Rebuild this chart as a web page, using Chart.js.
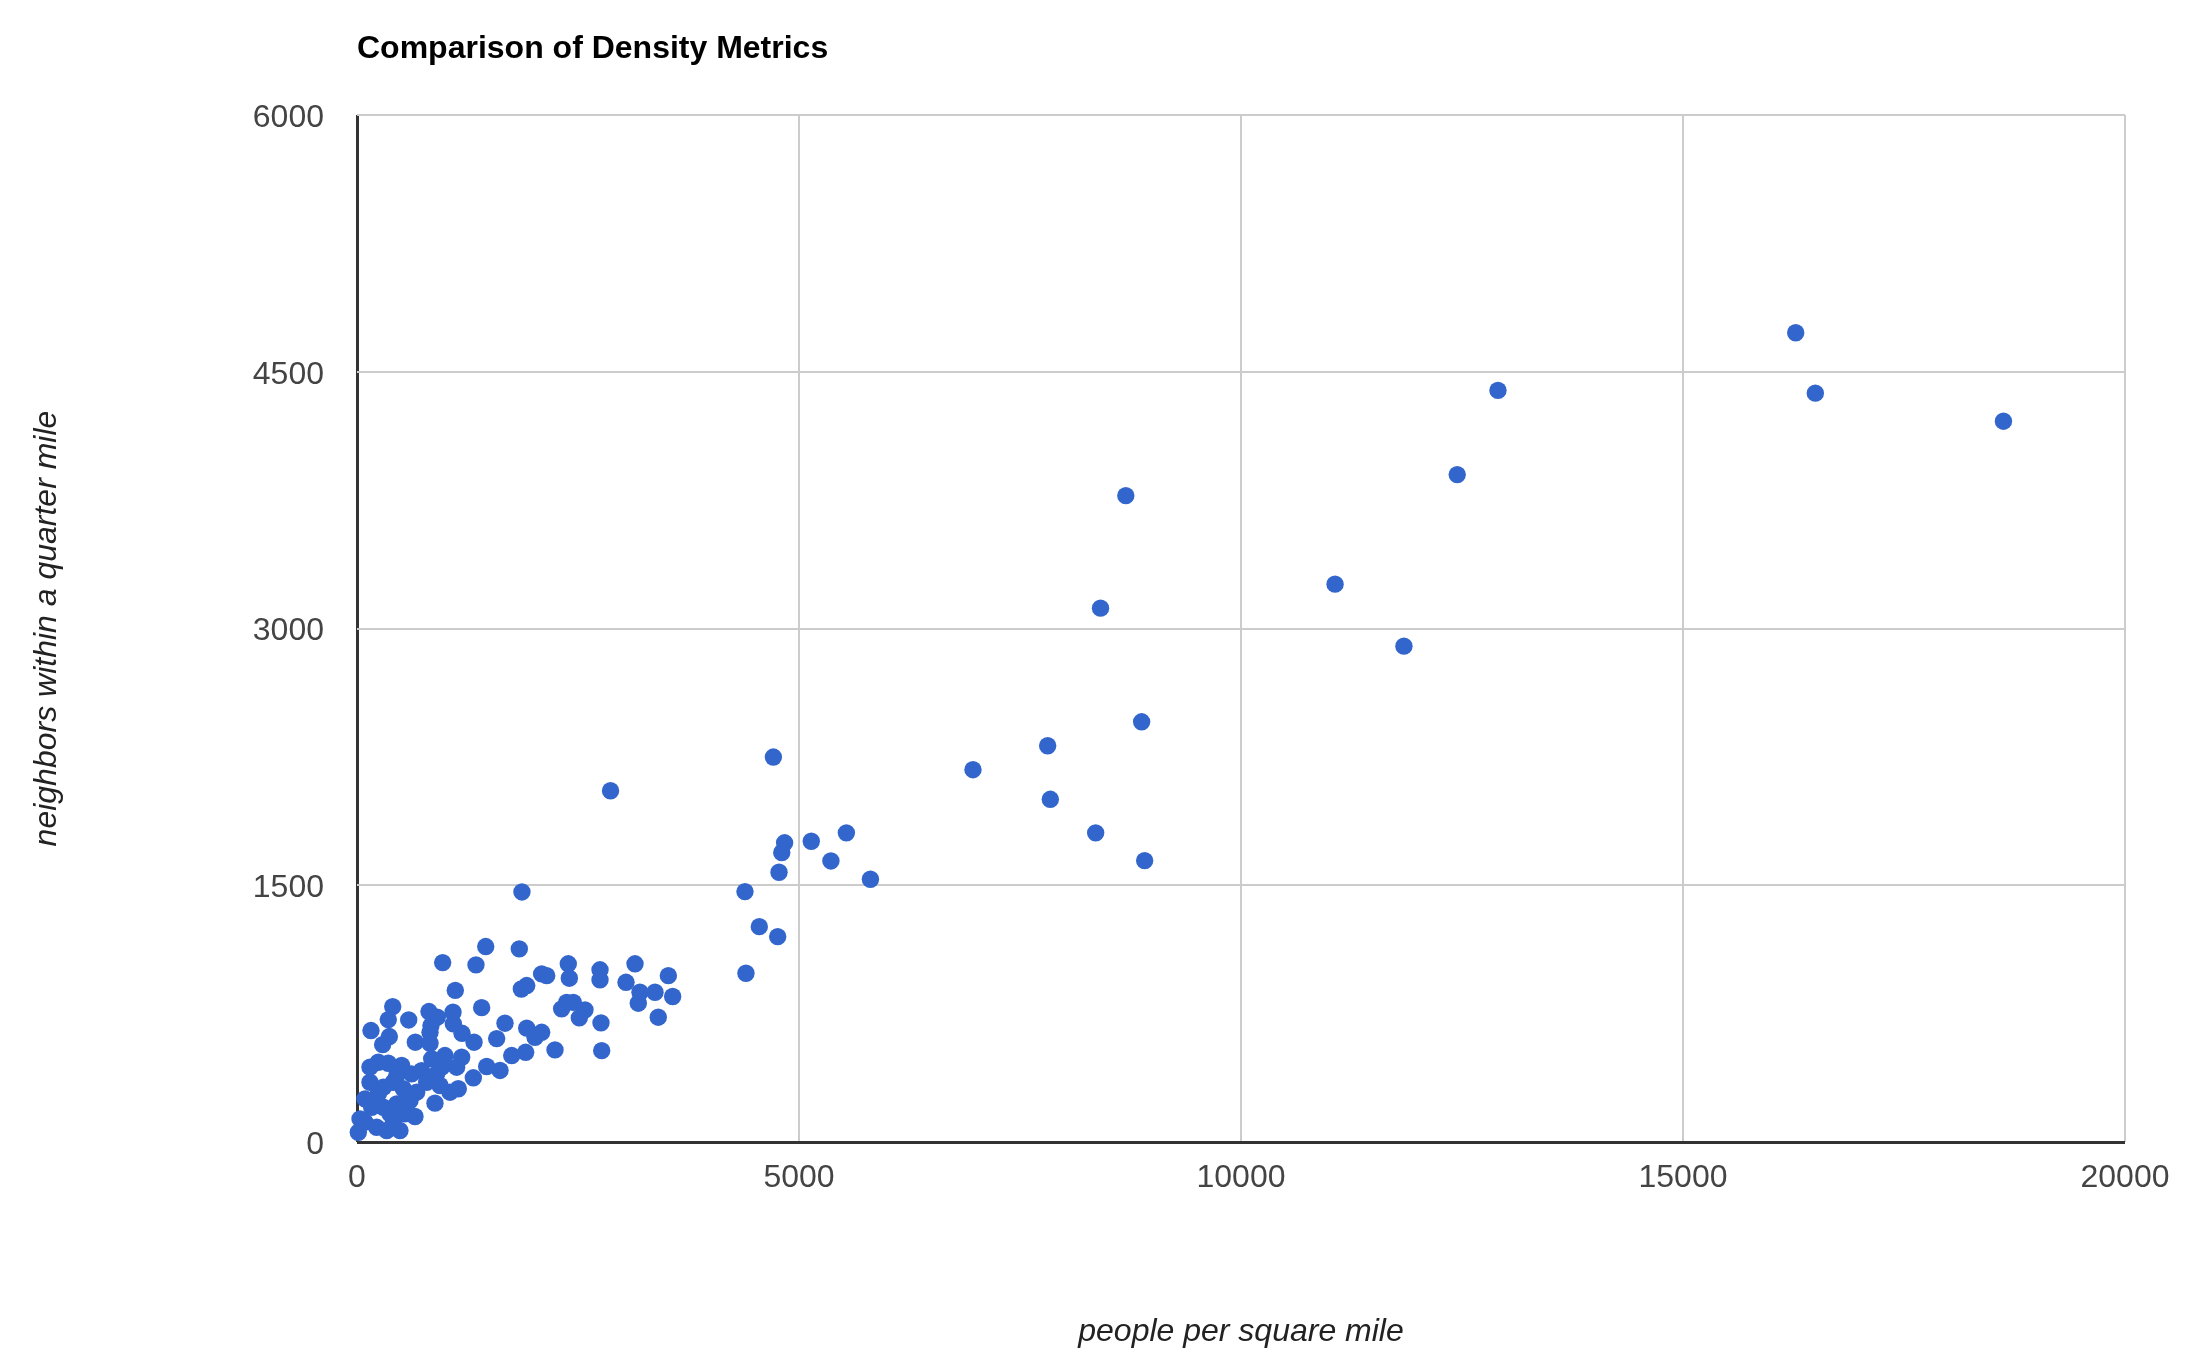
<!DOCTYPE html>
<html>
<head>
<meta charset="utf-8">
<script src="https://cdn.jsdelivr.net/npm/chart.js@4"></script>
<style>
  html, body { margin: 0; padding: 0; background: #ffffff; }
  #wrap { width: 2200px; height: 1372px; }
</style>
</head>
<body>
<div id="wrap"><canvas id="c" width="2200" height="1372"></canvas></div>
<script>
// ---- data (people per square mile, neighbors within a quarter mile) ----
const density = [
  1456, 1836, 969, 1346, 1112, 1859, 1920, 404, 1410, 814,
  1086, 354, 585, 908, 158, 366, 837, 826, 1090, 1188,
  1324, 1674, 1580, 1920, 290, 660, 826, 1750, 1908, 1467,
  1618, 1184, 995, 845, 1316, 1146, 1052, 882, 675, 505,
  241, 354, 147, 90, 656, 34, 15, 223, 411, 449,
  298, 731, 618, 901, 788, 958, 1127, 411, 298, 524,
  166, 373, 543, 90, 336, 939, 147, 449, 600, 241,
  486,
  2390, 2402, 2749, 2749, 2089, 2146, 3145, 3522, 3043, 3201,
  3371, 3571, 3182, 3408, 2315, 2447, 2579, 2515, 2372, 2760,
  2089, 2014, 2240, 2768,
  4389, 4551, 4759, 4400, 5808,
  8876, 7813, 6968, 7843, 8356, 8910,
  4710, 2868, 4837, 4805, 5139, 5536, 5361, 4774, 1866,
  16275, 16497, 18625, 12907, 12446, 11064, 11843, 8697, 8411
];
const neighbors = [
  1142, 1128, 1048, 1035, 886, 894, 914, 791, 785, 762,
  758, 715, 713, 729, 651, 616, 680, 641, 690, 635,
  583, 694, 604, 665, 569, 583, 577, 505, 524, 441,
  418, 495, 505, 486, 375, 311, 291, 227, 291, 447,
  466, 460, 349, 252, 149, 135, 57, 86, 106, 223,
  203, 417, 398, 398, 349, 437, 437, 349, 320, 311,
  203, 165, 165, 116, 67, 330, 437, 388, 242, 281,
  67,
  1041, 957, 1006, 947, 982, 972, 1041, 972, 933, 875,
  875, 850, 811, 729, 778, 816, 772, 725, 816, 696,
  641, 612, 538, 534,
  1463, 1258, 1200, 986, 1535,
  2455, 2315, 2175, 2002, 1806, 1644,
  2249, 2052, 1748, 1691, 1757, 1806, 1642, 1576, 1461,
  4728, 4375, 4211, 4391, 3899, 3259, 2897, 3776, 3119
];
const xTicks = [0, 5000, 10000, 15000, 20000];
const yTicks = [0, 1500, 3000, 4500, 6000];

const titleText = 'Comparison of Density Metrics';
const xTitle = 'people per square mile';
const yTitle = 'neighbors within a quarter mile';

// ---- chart ----
const FONT = '"Liberation Sans", Arial, Helvetica, sans-serif';
Chart.defaults.font.family = FONT;

const points = density.map((x, i) => ({ x: x, y: neighbors[i] }));

const gridColor = ctx => (ctx.tick && ctx.tick.value === 0) ? '#333333' : '#cccccc';
const gridWidth = ctx => (ctx.tick && ctx.tick.value === 0) ? 3 : 2;

new Chart(document.getElementById('c'), {
  type: 'scatter',
  data: {
    datasets: [{
      data: points,
      backgroundColor: '#3366cc',
      borderWidth: 0,
      pointRadius: 8.7,
      pointHoverRadius: 8.7,
      clip: false
    }]
  },
  options: {
    responsive: false,
    devicePixelRatio: 1,
    animation: false,
    events: [],
    layout: { padding: { left: 0, right: 75, top: 0, bottom: 0 } },
    plugins: {
      legend: { display: false },
      tooltip: { enabled: false },
      title: {
        display: true,
        text: titleText,
        align: 'start',
        fullSize: false,
        color: '#000000',
        font: { family: FONT, size: 32, weight: 'bold', lineHeight: 1.2 },
        padding: { top: 29.5, bottom: 47.1 }
      }
    },
    scales: {
      x: {
        type: 'linear',
        min: 0,
        max: 20000,
        afterBuildTicks: s => { s.ticks = xTicks.map(v => ({ value: v })); },
        afterFit: s => { s.height = 230; },
        border: { display: false },
        grid: { color: gridColor, lineWidth: gridWidth, drawTicks: false },
        ticks: {
          color: '#444444',
          font: { family: FONT, size: 32, lineHeight: 1.2 },
          padding: 17,
          maxRotation: 0,
          callback: v => String(v)
        },
        title: {
          display: true,
          text: xTitle,
          color: '#222222',
          font: { family: FONT, size: 32, style: 'italic', lineHeight: 1.2 },
          padding: { top: 0, bottom: 21 }
        }
      },
      y: {
        type: 'linear',
        min: 0,
        max: 6000,
        afterBuildTicks: s => { s.ticks = yTicks.map(v => ({ value: v })); },
        afterFit: s => { s.width = 357; },
        border: { display: false },
        grid: { color: gridColor, lineWidth: gridWidth, drawTicks: false },
        ticks: {
          color: '#444444',
          font: { family: FONT, size: 32, lineHeight: 1.2 },
          padding: 33,
          labelOffset: 3,
          callback: v => String(v)
        },
        title: {
          display: true,
          text: yTitle,
          color: '#222222',
          font: { family: FONT, size: 32, style: 'italic', lineHeight: 1.2 },
          padding: { top: 28, bottom: 0 }
        }
      }
    }
  }
});
</script>
</body>
</html>
